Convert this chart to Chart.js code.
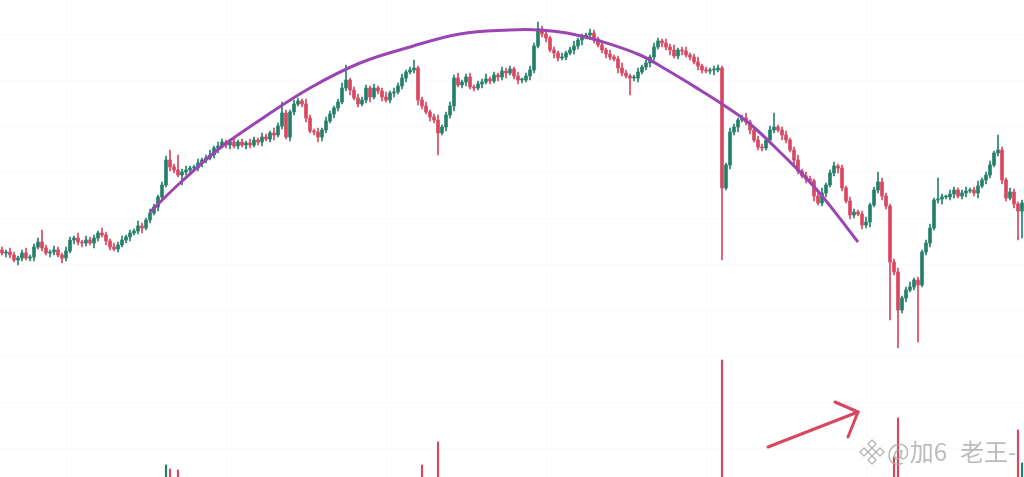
<!DOCTYPE html>
<html>
<head>
<meta charset="utf-8">
<title>Candles</title>
<script src="https://cdn.jsdelivr.net/npm/chart.js@4.4.0/dist/chart.umd.min.js"></script>
<style>
    html, body { margin: 0; padding: 0; background: #fff; overflow: hidden; }
    #wrap { width: 1024px; height: 477px; }
</style>
</head>
<body>
<div id="wrap"><canvas id="myChart" width="1024" height="477"></canvas></div>
<script>
'use strict';

// Candle closes left to right (one candle every ~4px)
const closes = [
    247,248,245,240,242,247,242,243,253,258,
    252,247,248,250,245,242,249,260,262,258,
    257,260,257,262,267,265,259,253,251,255,
    260,263,267,269,274,272,280,287,293,303,
    315,340,333,330,325,328,330,332,332,337,
    340,342,345,352,354,358,355,358,354,358,
    355,357,355,360,358,363,361,367,365,374,
    387,363,388,396,399,396,382,369,368,363,
    370,379,386,392,398,412,420,410,402,396,
    400,412,403,412,409,403,400,407,408,414,
    422,428,430,432,400,394,388,383,380,367,
    373,385,394,422,415,418,423,413,412,416,
    418,421,419,425,423,429,427,431,424,420,
    420,424,430,454,471,466,462,450,447,442,
    443,447,450,454,460,463,465,467,461,455,
    450,446,443,441,432,427,424,422,422,428,
    433,437,443,453,459,457,453,450,444,450,
    449,445,443,438,434,430,429,430,430,432,
    312,335,368,373,380,382,378,370,360,353,
    352,360,370,373,370,365,360,350,340,329,
    324,321,319,304,297,307,315,327,334,332,
    312,299,285,288,286,275,278,295,310,318,
    304,294,238,228,190,202,210,213,220,215,
    248,257,272,300,301,303,303,306,310,304,
    307,309,310,307,314,320,325,335,347,350,
    320,302,308,296,289,297
];

const opens = [
    250,247,248,245,240,242,247,242,243,253,
    258,252,247,248,250,245,242,249,260,262,
    258,257,260,257,262,267,265,259,253,251,
    255,260,263,267,269,274,272,280,287,293,
    303,315,340,333,330,325,328,330,332,332,
    337,340,342,345,352,354,358,355,358,354,
    358,355,357,355,360,358,363,361,367,365,
    374,387,363,388,396,399,396,382,369,368,
    363,370,379,386,392,398,412,420,410,402,
    396,400,412,403,412,409,403,400,407,408,
    414,422,428,430,432,400,394,388,383,380,
    367,373,385,394,422,415,418,423,413,412,
    416,418,421,419,425,423,429,427,431,424,
    420,420,424,430,454,471,466,462,450,447,
    442,443,447,450,454,460,463,465,467,461,
    455,450,446,443,441,432,427,424,422,422,
    428,433,437,443,453,459,457,453,450,444,
    450,449,445,443,438,434,430,429,430,430,
    432,312,335,368,373,380,382,378,370,360,
    353,352,360,370,373,370,365,360,350,340,
    329,324,321,319,304,297,307,315,327,334,
    332,312,299,285,288,286,275,278,295,310,
    318,304,294,238,228,190,202,210,213,220,
    215,248,257,272,300,301,303,303,306,310,
    304,307,309,310,307,314,320,325,335,347,
    350,320,302,308,296,289
];

// Upper / lower wick length of each candle
const wickUp = [
    3,2,4,3,2,3,5,2,3,4,
    12,3,2,4,3,2,4,3,2,5,
    2,4,3,3,2,5,3,2,4,3,
    4,2,3,2,5,3,2,4,3,2,
    3,4,10,3,15,3,4,2,3,4,
    2,3,5,2,4,3,2,3,4,2,
    3,2,4,3,2,4,3,2,5,3,
    11,3,2,4,3,2,5,3,2,4,
    2,4,3,2,3,5,15,2,3,4,
    3,3,2,4,2,3,5,2,4,3,
    4,2,3,8,2,3,4,2,3,5,
    2,3,4,3,5,2,3,4,2,3,
    3,5,2,3,2,4,3,3,2,4,
    2,3,4,3,7,3,4,2,3,2,
    4,2,3,5,2,3,2,4,3,2,
    3,2,4,2,3,5,3,2,3,4,
    2,3,2,4,3,2,4,3,5,2,
    3,4,2,3,5,2,3,2,4,3,
    2,2,4,3,2,3,5,2,3,4,
    3,2,4,14,2,3,4,2,3,5,
    2,4,3,2,3,5,2,3,4,2,
    3,2,4,3,2,3,5,2,3,10,
    4,3,2,3,4,2,3,5,2,3,
    2,3,4,2,21,3,2,4,3,2,
    3,4,2,3,5,2,3,4,2,15,
    3,2,4,3,2,3
];
const wickDown = [
    2,4,3,2,5,3,2,3,4,2,
    3,2,4,3,2,5,3,2,4,3,
    4,3,2,5,3,2,4,3,2,3,
    2,3,4,2,3,5,2,3,2,4,
    3,2,4,3,2,10,3,4,2,3,
    4,3,2,3,5,2,3,4,2,3,
    2,4,3,2,3,4,2,3,5,2,
    3,2,4,3,2,3,4,2,3,5,
    4,3,2,4,3,2,3,5,2,3,
    2,3,5,2,3,4,2,3,4,2,
    3,4,2,3,5,3,2,4,3,22,
    2,4,3,5,2,3,4,2,3,2,
    4,2,3,2,4,3,5,2,3,4,
    3,2,4,3,2,3,4,2,5,3,
    2,3,2,4,3,5,2,3,4,2,
    3,4,3,2,5,3,2,17,3,4,
    2,3,4,3,2,4,3,5,2,3,
    4,2,3,2,4,3,2,3,5,2,
    72,2,4,3,5,2,3,4,2,3,
    3,2,4,3,2,5,3,2,4,3,
    2,4,3,5,2,3,4,2,3,5,
    3,2,4,3,2,4,3,5,2,3,
    4,3,58,3,38,3,4,2,3,57,
    2,3,4,2,3,5,2,3,4,2,
    3,4,2,3,5,2,4,3,2,3,
    4,3,2,4,29,27
];

// Volume spikes poking up from the bottom edge (the rest is below the frame)
const volIndex = [41, 42, 44, 105, 109, 180, 223, 224, 254, 255];
const volValue = [12, 8, 7, 12, 35, 117, 20, 59, 47, 14];

// Hand-drawn purple arc (candle index, price)
const arcIndex = [37, 44.5, 54.5, 64.5, 77, 89.5, 102, 114.5, 127, 134.5, 141.25, 149.5, 159.5, 166.25, 174.5, 180, 187, 195.25, 203.75, 214];
const arcPrice = [288, 317, 352, 380, 412, 437, 453, 466, 470, 470, 467, 459, 445, 430, 410, 396, 376, 345, 310, 258];

// Red arrow: tail, tip, upper barb, lower barb
const arrowIndex = [191.5, 214, 208.25, 211.5];
const arrowPrice = [53, 88, 98, 63];

// Faint background grid
const gridIndex = [16, 56, 96, 136, 176, 216];
const gridPrice = [52, 98, 144, 190, 236, 282, 328, 374, 420, 466];

const upColor = '#22806a';
const downColor = '#d9465f';

function candleColor(i) {
    return closes[i] >= opens[i] ? upColor : downColor;
}

function buildDatasets() {
    let colors = closes.map((c, i) => candleColor(i));

    let wicks = closes.map((c, i) => ({
        x: i,
        y: [Math.min(c, opens[i]) - wickDown[i], Math.max(c, opens[i]) + wickUp[i]]
    }));
    let bodies = closes.map((c, i) => ({x: i, y: [opens[i], c]}));
    let volumes = volIndex.map((idx, k) => ({x: idx, y: volValue[k]}));
    let arc = arcIndex.map((idx, k) => ({x: idx, y: arcPrice[k]}));

    return [
        {
            type: 'line', data: arc, borderColor: '#9b44b4', borderWidth: 3,
            pointRadius: 0, tension: 0.4, order: 0
        },
        {
            // arrow shaft + upper barb
            type: 'line',
            data: [0, 1, 2].map(k => ({x: arrowIndex[k], y: arrowPrice[k]})),
            borderColor: '#d84760', borderWidth: 3, pointRadius: 0,
            borderCapStyle: 'round', borderJoinStyle: 'round', order: 0
        },
        {
            // lower barb
            type: 'line',
            data: [1, 3].map(k => ({x: arrowIndex[k], y: arrowPrice[k]})),
            borderColor: '#d84760', borderWidth: 3, pointRadius: 0,
            borderCapStyle: 'round', order: 0
        },
        {
            data: bodies, backgroundColor: colors, barThickness: 3,
            minBarLength: 1, grouped: false, order: 1
        },
        {
            data: wicks, backgroundColor: colors, barThickness: 1,
            grouped: false, order: 2
        },
        {
            data: volumes, yAxisID: 'yv', barThickness: 1.5, grouped: false, order: 3,
            backgroundColor: volIndex.map(idx => candleColor(idx))
        }
    ];
}

// Watermark in the lower right corner
const watermark = {
    id: 'watermark',
    afterDraw(chart) {
        let ctx = chart.ctx;
        ctx.save();
        // diamond logo made of four small diamonds round a middle one
        ctx.strokeStyle = 'rgba(175,175,175,0.85)';
        ctx.lineWidth = 1.5;
        let cx = 872, cy = 452;
        [[0, -8], [-8, 0], [8, 0], [0, 8], [0, 0]].forEach(function(d) {
            let r = 4;
            ctx.beginPath();
            ctx.moveTo(cx + d[0], cy + d[1] - r);
            ctx.lineTo(cx + d[0] + r, cy + d[1]);
            ctx.lineTo(cx + d[0], cy + d[1] + r);
            ctx.lineTo(cx + d[0] - r, cy + d[1]);
            ctx.closePath();
            ctx.stroke();
        });
        ctx.font = '24px "Noto Sans CJK SC", "Noto Sans", sans-serif';
        ctx.textBaseline = 'alphabetic';
        ctx.fillStyle = 'rgba(170,170,170,0.8)';
        ctx.fillText('@加6', 887, 461);
        ctx.fillText('老王-', 960, 461);
        ctx.restore();
    }
};

function renderChart() {
    var ctx = document.getElementById('myChart').getContext('2d');
    var faint = 'rgba(0,0,0,0.02)';
    var chart = new Chart(ctx, {
        type: 'bar',
        data: {datasets: buildDatasets()},
        options: {
            responsive: false,
            devicePixelRatio: 1,
            animation: false,
            layout: {padding: 0},
            plugins: {legend: {display: false}, tooltip: {enabled: false}},
            scales: {
                x: {
                    type: 'linear', min: -0.5, max: closes.length - 0.5, offset: false,
                    ticks: {display: false},
                    grid: {color: faint, drawTicks: false, offset: false},
                    border: {display: false},
                    afterBuildTicks: scale => { scale.ticks = gridIndex.map(v => ({value: v})); }
                },
                y: {
                    min: 23, max: 500,
                    ticks: {display: false},
                    grid: {color: faint, drawTicks: false},
                    border: {display: false},
                    afterBuildTicks: scale => { scale.ticks = gridPrice.map(v => ({value: v})); }
                },
                yv: {display: false, min: 0, max: 477}
            }
        },
        plugins: [watermark]
    });
}

renderChart();
</script>
</body>
</html>
